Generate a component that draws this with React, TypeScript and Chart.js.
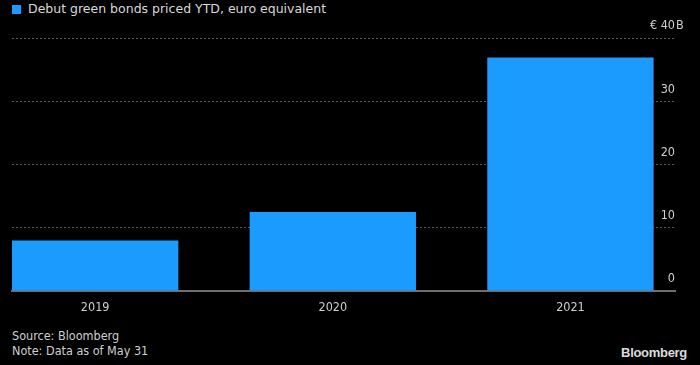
import React, { useEffect, useRef } from "react";
import { Chart, registerables } from "chart.js";

Chart.register(...registerables);

const categories = ["2019", "2020", "2021"];
const seriesLabel = "Debut green bonds priced YTD, euro equivalent";
const values = [8.0, 12.5, 36.9];
const yTicks = [0, 10, 20, 30, 40];
const sourceLines = ["Source: Bloomberg", "Note: Data as of May 31"];

const BLUE = "#1b9bfd";
const FONT = "'DejaVu Sans', sans-serif";
const COND = "'DejaVu Sans Condensed', 'DejaVu Sans', sans-serif";

const unitPlugin = {
  id: "unitSuffix",
  afterDraw(chart: any) {
    const y = chart.scales.y;
    const ctx = chart.ctx;
    const top = yTicks[yTicks.length - 1];
    ctx.save();
    ctx.font = `12.5px ${COND}`;
    ctx.fillStyle = "#cfcfcf";
    ctx.textAlign = "left";
    ctx.textBaseline = "middle";
    ctx.fillText("B", chart.chartArea.right + 1, y.getPixelForValue(top) - 12);
    ctx.restore();
  },
};

export default function App() {
  const ref = useRef<HTMLCanvasElement>(null);

  useEffect(() => {
    document.body.style.margin = "0";
    document.body.style.background = "#000";
    const canvas = ref.current!;
    const chart = new Chart(canvas, {
      type: "bar",
      data: {
        datasets: [
          {
            label: seriesLabel,
            data: values.map((v, i) => ({ x: i, y: v })),
            backgroundColor: BLUE,
            borderWidth: 0,
            barPercentage: 0.7,
            categoryPercentage: 1,
          },
        ],
      },
      options: {
        responsive: false,
        animation: false,
        layout: { padding: { left: 12, right: 25, top: 38, bottom: 0 } },
        plugins: {
          legend: { display: false },
          tooltip: { enabled: false },
        },
        scales: {
          x: {
            type: "linear",
            offset: false,
            min: -0.35,
            max: 2.44,
            afterBuildTicks: (scale: any) => {
              scale.ticks = categories.map((_, i) => ({ value: i }));
            },
            afterFit: (scale: any) => {
              scale.height = 29;
            },
            grid: { display: false, drawTicks: false, offset: false },
            border: { display: true, color: "#6e6e6e", width: 2 },
            ticks: {
              padding: 9,
              color: "#cfcfcf",
              font: { family: COND, size: 12.5 },
              autoSkip: false,
              maxRotation: 0,
              callback: (v: any) => categories[Math.round(Number(v))] ?? "",
            },
          },
          y: {
            position: "right",
            min: 0,
            max: 40,
            afterBuildTicks: (scale: any) => {
              scale.ticks = yTicks.map((v) => ({ value: v }));
            },
            grid: {
              drawTicks: false,
              color: (ctx: any) => (ctx.tick && ctx.tick.value === 0 ? "rgba(0,0,0,0)" : "#5a5a5a"),
              lineWidth: 1,
            },
            border: { display: false, dash: [2, 2] },
            ticks: {
              mirror: true,
              padding: 0,
              labelOffset: -12,
              color: "#cfcfcf",
              font: { family: COND, size: 12.5 },
              callback: (v: any) => (Number(v) === 40 ? "€ 40" : String(v)),
            },
          },
        },
      },
      plugins: [unitPlugin],
    });
    return () => chart.destroy();
  }, []);

  return (
    <div
      style={{
        position: "absolute",
        left: 0,
        top: 0,
        width: 700,
        height: 365,
        background: "#000",
        overflow: "hidden",
        fontFamily: FONT,
      }}
    >
      <div
        style={{
          position: "absolute",
          left: 12,
          top: 1,
          fontSize: 12.5,
          lineHeight: "16px",
          color: "#d9d9d9",
          display: "flex",
          alignItems: "center",
        }}
      >
        <span style={{ display: "inline-block", width: 9, height: 9, background: BLUE, marginRight: 7 }} />
        <span>{seriesLabel}</span>
      </div>
      <canvas ref={ref} width={700} height={320} style={{ position: "absolute", left: 0, top: 0 }} />
      <div
        style={{
          position: "absolute",
          left: 12,
          top: 328,
          fontSize: 12.5,
          fontFamily: COND,
          lineHeight: "15px",
          color: "#cfcfcf",
        }}
      >
        {sourceLines.map((s) => (
          <div key={s}>{s}</div>
        ))}
      </div>
      <div
        style={{
          position: "absolute",
          right: 13,
          top: 345,
          fontSize: 13,
          fontFamily: "'Liberation Sans', Arial, sans-serif",
          fontWeight: "bold",
          lineHeight: "16px",
          color: "#dcdcdc",
          letterSpacing: -0.3,
        }}
      >
        Bloomberg
      </div>
    </div>
  );
}
